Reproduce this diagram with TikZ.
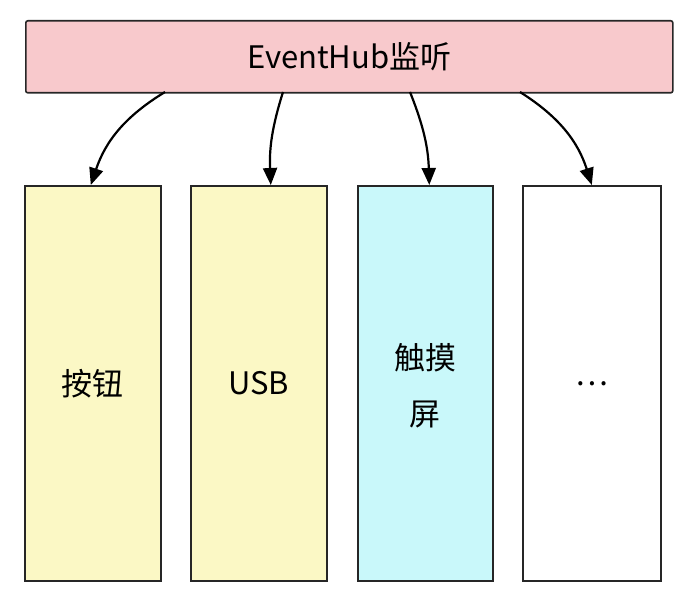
\documentclass[tikz,border=0pt]{standalone}
\usepackage{fontspec}
\setmainfont{Noto Sans CJK SC}
\usetikzlibrary{arrows.meta}
\definecolor{pinkf}{HTML}{F8C9CC}
\definecolor{yelf}{HTML}{FBF8C5}
\definecolor{cyanf}{HTML}{C9F8FA}
\tikzset{
 box/.style={draw=black!85,line width=1.6pt,inner sep=0pt,anchor=north west},
 lbl/.style={font=\fontsize{31}{40}\selectfont,align=center},
 arr/.style={-{Triangle[length=17pt,width=14pt]},line width=2.2pt}
}
\begin{document}
\begin{tikzpicture}[x=1pt,y=-1pt]
\useasboundingbox (0,0) rectangle (686,607);
\node[box,fill=pinkf,rounded corners=2pt,minimum width=647pt,minimum height=72pt,lbl] (top) at (25,20) {};
\node[lbl] at (top.center) {EventHub监听};
\node[box,fill=yelf,minimum width=136pt,minimum height=395pt] (c1) at (24,185) {};
\node[box,fill=yelf,minimum width=136pt,minimum height=395pt] (c2) at (190,185) {};
\node[box,fill=cyanf,minimum width=135pt,minimum height=395pt] (c3) at (357,185) {};
\node[box,fill=white,minimum width=138pt,minimum height=395pt] (c4) at (522,185) {};
\node[lbl] at (c1.center) {按钮};
\node[lbl] at (c2.center) {USB};
\node[lbl,font=\fontsize{31}{56}\selectfont] at ([yshift=-2pt]c3.center) {触摸\\屏};
\node[lbl] at (c4.center) {…};
\coordinate (s1) at (165,92); \coordinate (s2) at (283,92);
\coordinate (s3) at (410,92); \coordinate (s4) at (520,92);
\draw[arr] (s1) to[bend right=20] ([xshift=-2pt]c1.north);
\draw[arr] (s2) to[bend right=10] ([xshift=12pt]c2.north);
\draw[arr] (s3) to[bend left=10] ([xshift=4pt]c3.north);
\draw[arr] (s4) to[bend left=20] (c4.north);
\end{tikzpicture}
\end{document}
